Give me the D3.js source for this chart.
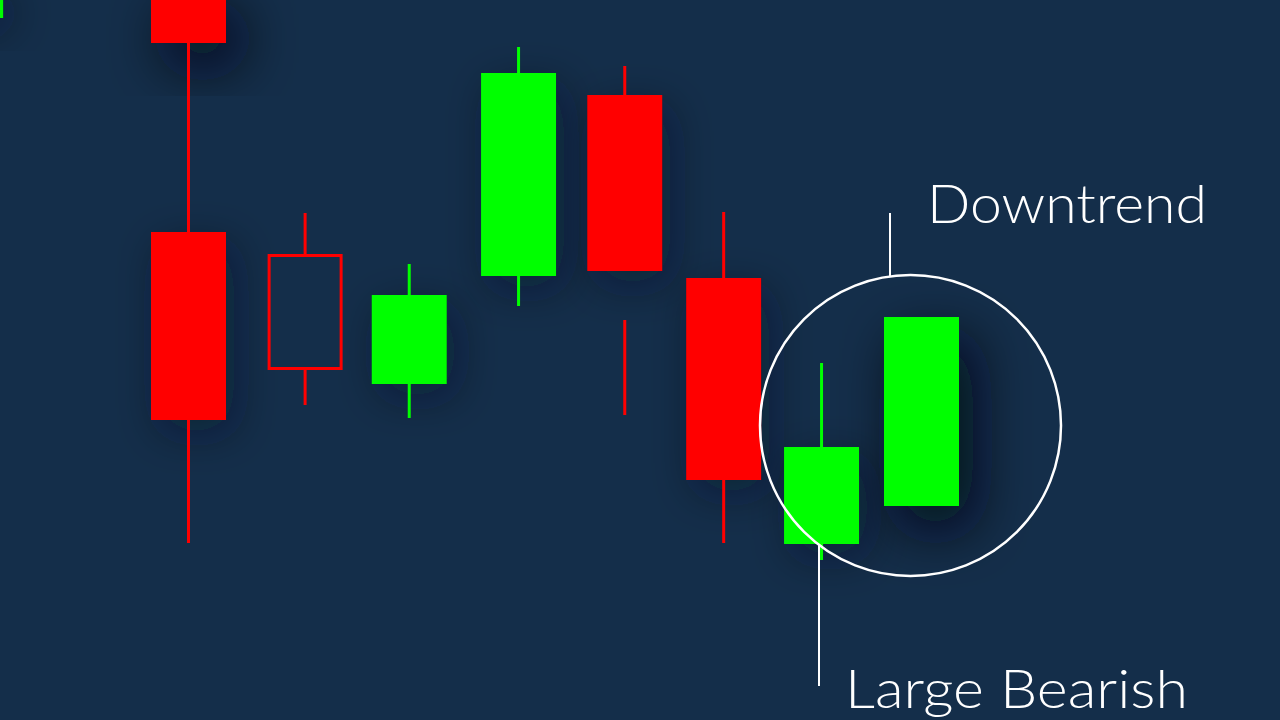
<!DOCTYPE html>
<html><head><meta charset="utf-8">
<script src="https://cdn.jsdelivr.net/npm/d3@7/dist/d3.min.js"></script>
<style>html,body{margin:0;padding:0;background:#142e4a;overflow:hidden}</style>
</head><body>
<svg id="chart" width="1280" height="720"></svg>
<script>
// ---- data (price units; higher = up) ----
const times  = [-2.14, 0.0, 0.0, 1.12, 2.12, 3.17, 4.19, 5.14, 6.08, 7.04];
const opens  = [702, 730, 488, 466, 336, 444, 625, 442, 176, 214];
const closes = [735, 677, 300, 350, 425, 647, 449, 240, 273, 403];
const highs  = [735, 735, 488, 507, 456, 673, 654, 508, 357, 403];
const lows   = [702, 488, 177, 315, 302, 414, 449, 177, 160, 214];
const hollow = [false, false, false, true, false, false, false, false, false, false];
const shadowed = [false, true, false, false, false, false, false, false, false, true];
// detached wick fragment under candle 6
const fragTime = [4.19];
const fragFrom = [400];
const fragTo   = [305];
const labels = ["Downtrend", "Large Bearish"];

const W = 1280, H = 720;
const svg = d3.select("#chart");
const x = d3.scaleLinear().domain([0, 7.04]).range([188.5, 921.5]);
const y = d3.scaleLinear().domain([0, 720]).range([720, 0]);
const bodyW = 75;

const defs = svg.append("defs");
const f = defs.append("filter").attr("id","sh").attr("x","-100%").attr("y","-100%").attr("width","300%").attr("height","300%");
f.append("feDropShadow").attr("dx",14).attr("dy",22).attr("stdDeviation",28).attr("flood-color","#030a14").attr("flood-opacity",0.9);
const f2 = defs.append("filter").attr("id","sh2").attr("x","-100%").attr("y","-100%").attr("width","300%").attr("height","300%");
f2.append("feDropShadow").attr("dx",8).attr("dy",12).attr("stdDeviation",22).attr("flood-color","#071526").attr("flood-opacity",0.45);

svg.append("rect").attr("width",W).attr("height",H).attr("fill","#142e4a");

const data = times.map((t,i)=>({t, o:opens[i], c:closes[i], h:highs[i], l:lows[i], hollow:hollow[i], s:shadowed[i]}));
const red = "#ff0000", green = "#00ff00";
const col = d => d.c >= d.o ? green : red;

// shadows layer
const shadowG = svg.append("g");
shadowG.selectAll("rect").data(data.filter(d=>!d.hollow)).join("rect")
  .attr("x", d=>x(d.t)-bodyW/2).attr("width", bodyW)
  .attr("y", d=>y(Math.max(d.o,d.c))).attr("height", d=>Math.abs(y(d.o)-y(d.c)))
  .attr("fill", "#0b1a2e")
  .attr("filter", d=>d.s ? "url(#sh)" : "url(#sh2)");

const g = svg.append("g");
// wicks
g.selectAll("line.wick").data(data).join("line").attr("class","wick")
  .attr("x1", d=>x(d.t)).attr("x2", d=>x(d.t))
  .attr("y1", d=>y(d.h)).attr("y2", d=>y(d.l))
  .attr("stroke", col).attr("stroke-width", 3);
g.selectAll("line.frag").data(fragTime).join("line").attr("class","frag")
  .attr("x1", d=>x(d)).attr("x2", d=>x(d))
  .attr("y1", (d,i)=>y(fragFrom[i])).attr("y2", (d,i)=>y(fragTo[i]))
  .attr("stroke", red).attr("stroke-width", 3);
// bodies
g.selectAll("rect.body").data(data).join("rect").attr("class","body")
  .attr("x", d=>x(d.t)-bodyW/2 + (d.hollow?1.5:0)).attr("width", d=>bodyW - (d.hollow?3:0))
  .attr("y", d=>y(Math.max(d.o,d.c)) + (d.hollow?1.5:0))
  .attr("height", d=>Math.abs(y(d.o)-y(d.c)) - (d.hollow?3:0))
  .attr("fill", d=>d.hollow ? "#142e4a" : col(d))
  .attr("stroke", d=>d.hollow ? col(d) : "none").attr("stroke-width", 3);

// annotation
const cx = 910.5, cy = 425.5, r = 150.5;
svg.append("circle").attr("cx",cx).attr("cy",cy).attr("r",r)
  .attr("fill","none").attr("stroke","#ffffff").attr("stroke-width",2.5);
svg.append("line").attr("x1",890).attr("x2",890).attr("y1",213).attr("y2",cy-Math.sqrt(r*r-(890-cx)**2))
  .attr("stroke","#ffffff").attr("stroke-width",2);
svg.append("line").attr("x1",819).attr("x2",819).attr("y1",cy+Math.sqrt(r*r-(819-cx)**2)).attr("y2",686)
  .attr("stroke","#ffffff").attr("stroke-width",2);
svg.append("text").attr("x",927).attr("y",223).text(labels[0])
  .attr("font-family","Lato, 'Open Sans', sans-serif").attr("font-weight",300).attr("font-size",54).attr("fill","#ffffff")
  .attr("textLength",280).attr("lengthAdjust","spacingAndGlyphs");
svg.append("text").attr("x",845).attr("y",708).text(labels[1])
  .attr("font-family","Lato, 'Open Sans', sans-serif").attr("font-weight",300).attr("font-size",54).attr("fill","#ffffff")
  .attr("textLength",343).attr("lengthAdjust","spacingAndGlyphs");
</script>
</body></html>
